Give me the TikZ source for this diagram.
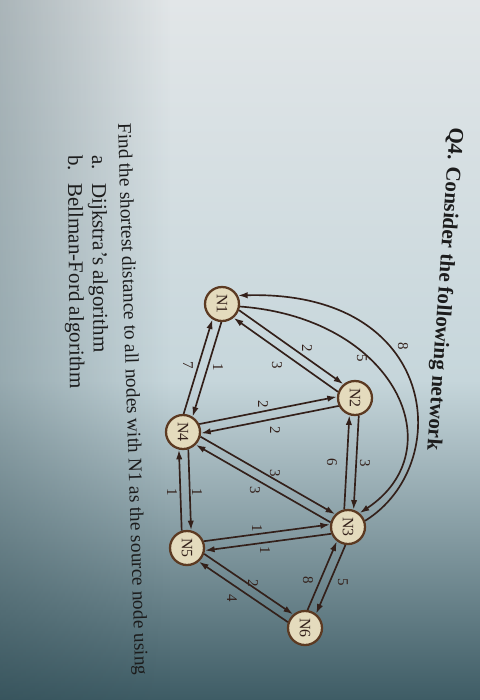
\documentclass[tikz,border=0pt]{standalone}
\usepackage{fontspec}
\setmainfont{Liberation Serif}
\usetikzlibrary{arrows.meta,fadings}

\definecolor{inkbrown}{HTML}{33201A}
\definecolor{nodeline}{HTML}{5C3A22}
\definecolor{nodefill}{HTML}{E4DBBD}
\definecolor{printink}{HTML}{1C1C1C}
\definecolor{bgtop}{HTML}{E2E6E8}
\definecolor{bgmid}{HTML}{C6D6DB}
\definecolor{bgbot}{HTML}{3E5C65}
\definecolor{bgdark}{HTML}{2A444C}

\begin{document}
\begin{tikzpicture}[x=0.02cm,y=-0.02cm,
    netnode/.style={circle,draw=nodeline,fill=nodefill,line width=1.3pt,
      minimum size=0.68cm,inner sep=0pt,text=inkbrown,
      font=\fontsize{9}{10}\selectfont},
    link/.style={draw=inkbrown,line width=0.95pt,
      -{Latex[length=5.5pt,width=3.6pt]}},
    wt/.style={rotate=-90,inner sep=0pt,text=inkbrown,
      font=\fontsize{8.5}{10}\selectfont},
    txt/.style={anchor=base west,inner sep=0pt,text=printink}]

  % photo background
  \shade[top color=bgtop,bottom color=bgmid] (0,0) rectangle (480,380);
  \shade[top color=bgmid,bottom color=bgbot] (0,380) rectangle (480,700);
  \fill[bgdark,path fading=east,fill opacity=.3] (0,0) rectangle (170,700);
  \useasboundingbox (0,0) rectangle (480,700);

  % text
  \node[txt,rotate=-94,font={\fontsize{12}{14}\selectfont\bfseries}] (title) at (450,127)
    {Q4. Consider the following network};
  \node[txt,rotate=-88.2,font={\fontsize{11}{13}\selectfont}] (task) at (118,123)
    {Find the shortest distance to all nodes with N1 as the source node using};
  \node[txt,rotate=-89.5,font={\fontsize{12}{14}\selectfont}] (itema) at (92,155)
    {\makebox[15.9pt][l]{a.}Dijkstra's algorithm};
  \node[txt,rotate=-89.5,font={\fontsize{12}{14}\selectfont}] (itemb) at (68,155)
    {\makebox[15.9pt][l]{b.}Bellman-Ford algorithm};

  % network
  \node[netnode] (N1) at (222,304) {\rotatebox{-90}{N1}};
  \node[netnode] (N2) at (355,398) {\rotatebox{-90}{N2}};
  \node[netnode] (N3) at (348,527) {\rotatebox{-90}{N3}};
  \node[netnode] (N4) at (183,432) {\rotatebox{-90}{N4}};
  \node[netnode] (N5) at (187,548) {\rotatebox{-90}{N5}};
  \node[netnode] (N6) at (305,628) {\rotatebox{-90}{N6}};

  \draw[link] (N1.-20) -- (N2.130);
  \draw[link] (N2.160) -- (N1.-50);
  \draw[link] (N1.-92) -- (N4.58);
  \draw[link] (N4.88) -- (N1.-122);
  \draw[link] (N4.26) -- (N2.176);
  \draw[link] (N2.206) -- (N4.-4);
  \draw[link] (N2.-78) -- (N3.72);
  \draw[link] (N3.102) -- (N2.-108);
  \draw[link] (N4.-15) -- (N3.135);
  \draw[link] (N3.165) -- (N4.-45);
  \draw[link] (N4.-73) -- (N5.77);
  \draw[link] (N5.107) -- (N4.-103);
  \draw[link] (N5.22) -- (N3.172);
  \draw[link] (N3.202) -- (N5.-8);
  \draw[link] (N5.-19) -- (N6.131);
  \draw[link] (N6.161) -- (N5.-49);
  \draw[link] (N6.82) -- (N3.232);
  \draw[link] (N3.262) -- (N6.52);
  \draw[link] (N1.-8) .. controls (395,318) and (455,450) .. (N3.50);
  \draw[link] (N3.20) .. controls (455,465) and (440,290) .. (N1.28);

  % weights
  \node[wt] (w12) at (307,348) {2};
  \node[wt] (w21) at (277,365) {3};
  \node[wt] (w31) at (403,346) {8};
  \node[wt] (w13) at (362,358) {5};
  \node[wt] (w14) at (218,367) {1};
  \node[wt] (w41) at (188,365) {7};
  \node[wt] (w42) at (263,404) {2};
  \node[wt] (w24) at (275,430) {2};
  \node[wt] (w23) at (365,463) {3};
  \node[wt] (w32) at (332,462) {6};
  \node[wt] (w43) at (275,473) {3};
  \node[wt] (w34) at (255,490) {3};
  \node[wt] (w45) at (197,492) {1};
  \node[wt] (w54) at (172,492) {1};
  \node[wt] (w53) at (257,528) {1};
  \node[wt] (w35) at (265,550) {1};
  \node[wt] (w56) at (253,583) {2};
  \node[wt] (w65) at (232,598) {4};
  \node[wt] (w63) at (308,580) {8};
  \node[wt] (w36) at (343,582) {5};
\end{tikzpicture}
\end{document}
